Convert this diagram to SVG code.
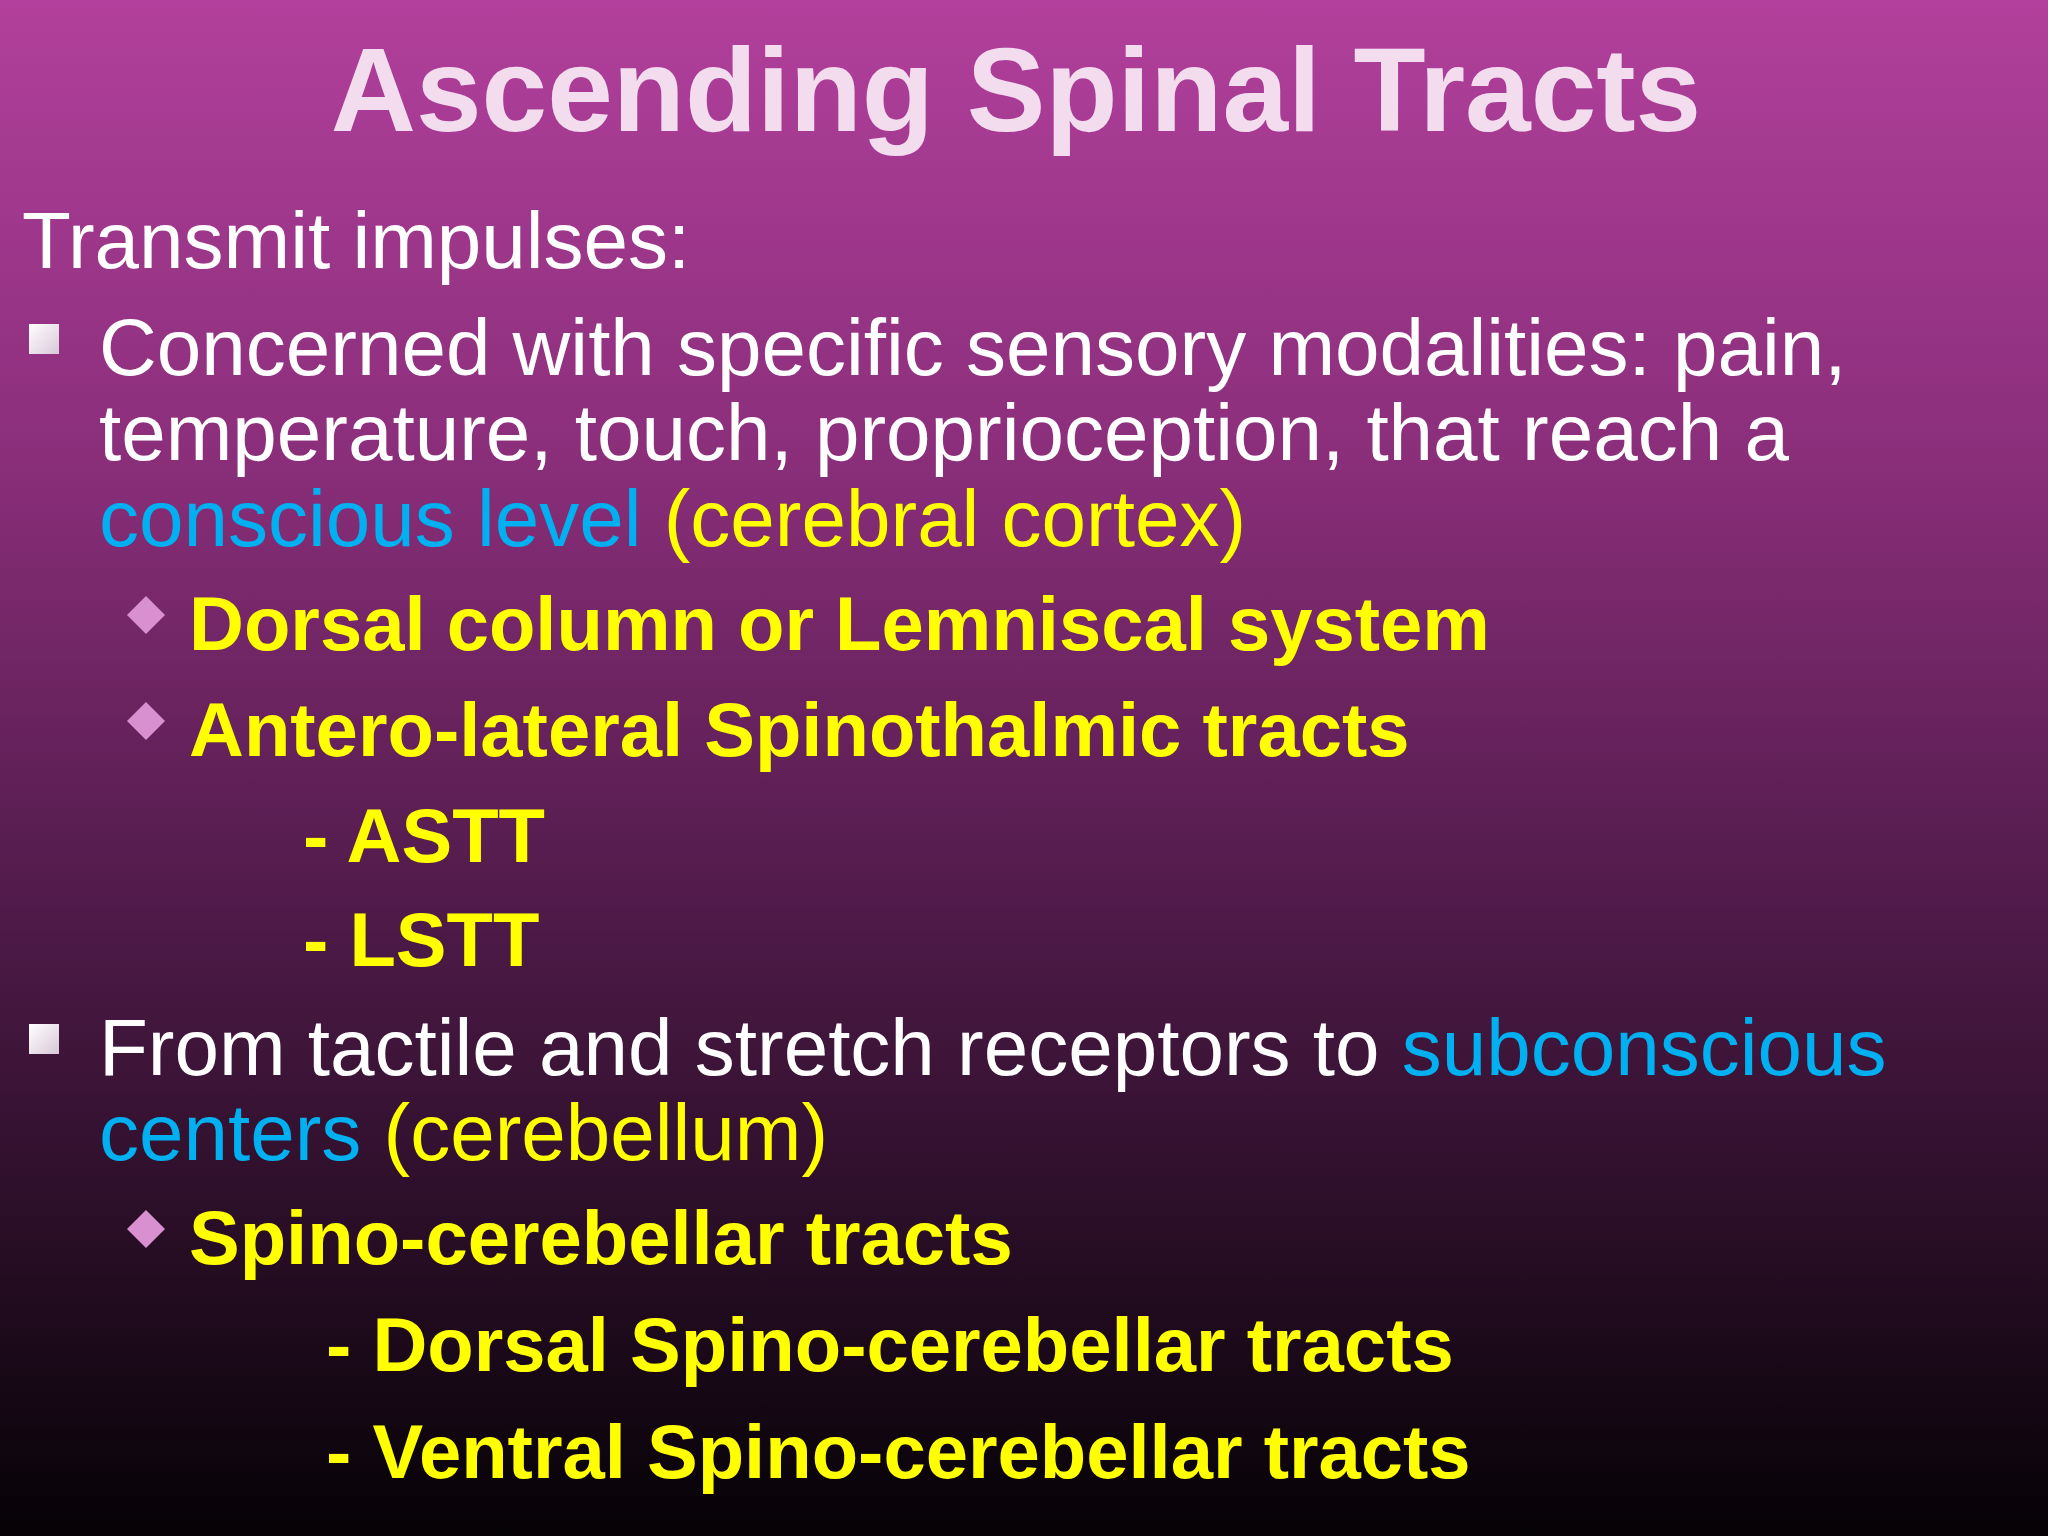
<svg xmlns="http://www.w3.org/2000/svg" width="2048" height="1536" viewBox="0 0 2048 1536">
<defs>
<linearGradient id="bg" x1="0" y1="0" x2="0" y2="1">
<stop offset="0" stop-color="#b2409c"/>
<stop offset="0.3" stop-color="#8a2e7a"/>
<stop offset="0.6" stop-color="#4e1a48"/>
<stop offset="1" stop-color="#050205"/>
</linearGradient>
<linearGradient id="sq" x1="0" y1="0" x2="1" y2="1">
<stop offset="0" stop-color="#ffffff"/>
<stop offset="1" stop-color="#d8c8d8"/>
</linearGradient>
</defs>
<style>
.t{font-family:"Liberation Sans",Arial,sans-serif;font-size:80px;fill:#ffffff}
.b{font-family:"Liberation Sans",Arial,sans-serif;font-size:76px;font-weight:bold;fill:#ffff00}
.c{fill:#00b0f0}.y{fill:#ffff00}
.d{fill:#d890d0}
</style>
<rect width="2048" height="1536" fill="url(#bg)"/>
<text x="1016" y="131" text-anchor="middle" style="font-family:'Liberation Sans',Arial,sans-serif;font-size:118px;font-weight:bold;fill:#f2dcee">Ascending Spinal Tracts</text>
<text class="t" x="22" y="268">Transmit impulses:</text>
<rect x="29" y="324" width="30" height="30" fill="url(#sq)"/>
<text class="t" x="99" y="375">Concerned with specific sensory modalities: pain,</text>
<text class="t" x="99" y="460">temperature, touch, proprioception, that reach a</text>
<text class="t" x="99" y="546"><tspan class="c">conscious level</tspan><tspan class="y"> (cerebral cortex)</tspan></text>
<polygon class="d" points="146,596 165,615 146,634 127,615"/>
<text class="b" x="189" y="650">Dorsal column or Lemniscal system</text>
<polygon class="d" points="146,702 165,721 146,740 127,721"/>
<text class="b" x="189" y="756">Antero-lateral Spinothalmic tracts</text>
<text class="b" x="303" y="862">- ASTT</text>
<text class="b" x="303" y="966">- LSTT</text>
<rect x="29" y="1024" width="30" height="30" fill="url(#sq)"/>
<text class="t" x="99" y="1075">From tactile and stretch receptors to <tspan class="c">subconscious</tspan></text>
<text class="t" x="99" y="1160"><tspan class="c">centers</tspan><tspan class="y"> (cerebellum)</tspan></text>
<polygon class="d" points="146,1210 165,1229 146,1248 127,1229"/>
<text class="b" x="189" y="1264">Spino-cerebellar tracts</text>
<text class="b" x="326" y="1371">- Dorsal Spino-cerebellar tracts</text>
<text class="b" x="326" y="1478">- Ventral Spino-cerebellar tracts</text>
</svg>
